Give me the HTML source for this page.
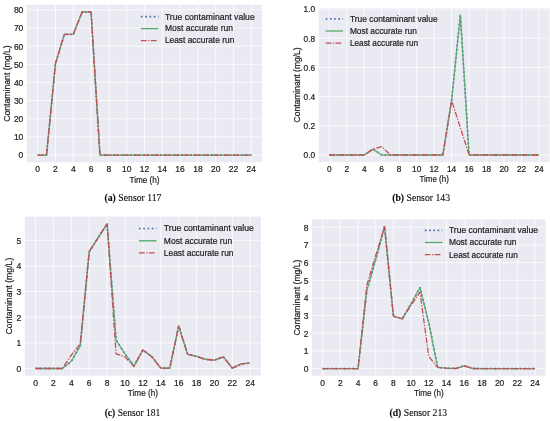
<!DOCTYPE html>
<html lang="en">
<head>
<meta charset="utf-8">
<title>Contaminant concentration at sensors</title>
<style>
html,body{margin:0;padding:0;background:#ffffff;}
body{width:550px;height:421px;overflow:hidden;}
svg{display:block;}
</style>
</head>
<body>
<svg width="550" height="421" viewBox="0 0 550 421">
<rect x="0" y="0" width="550" height="421" fill="#ffffff"/>
<g>
<clipPath id="cp0"><rect x="26.95" y="4.85" width="235.05" height="157.35"/></clipPath>
<rect x="26.95" y="4.85" width="235.05" height="157.35" fill="#EAEAF2"/>
<path d="M37.63 4.85V162.2M55.44 4.85V162.2M73.25 4.85V162.2M91.05 4.85V162.2M108.86 4.85V162.2M126.67 4.85V162.2M144.47 4.85V162.2M162.28 4.85V162.2M180.09 4.85V162.2M197.9 4.85V162.2M215.7 4.85V162.2M233.51 4.85V162.2M251.32 4.85V162.2M26.95 155.05H262M26.95 136.89H262M26.95 118.74H262M26.95 100.59H262M26.95 82.44H262M26.95 64.28H262M26.95 46.13H262M26.95 27.98H262M26.95 9.82H262" stroke="#ffffff" stroke-width="0.75" fill="none" clip-path="url(#cp0)"/>
<g font-family='"Liberation Sans", sans-serif' font-size="8.5" fill="#222222" stroke="#222222" stroke-width="0.2">
<g text-anchor="middle">
<text x="37.63" y="172.2">0</text>
<text x="55.44" y="172.2">2</text>
<text x="73.25" y="172.2">4</text>
<text x="91.05" y="172.2">6</text>
<text x="108.86" y="172.2">8</text>
<text x="126.67" y="172.2">10</text>
<text x="144.47" y="172.2">12</text>
<text x="162.28" y="172.2">14</text>
<text x="180.09" y="172.2">16</text>
<text x="197.9" y="172.2">18</text>
<text x="215.7" y="172.2">20</text>
<text x="233.51" y="172.2">22</text>
<text x="251.32" y="172.2">24</text>
</g><g text-anchor="end">
<text x="23.35" y="158.45">0</text>
<text x="23.35" y="140.29">10</text>
<text x="23.35" y="122.14">20</text>
<text x="23.35" y="103.99">30</text>
<text x="23.35" y="85.84">40</text>
<text x="23.35" y="67.68">50</text>
<text x="23.35" y="49.53">60</text>
<text x="23.35" y="31.38">70</text>
<text x="23.35" y="13.22">80</text>
</g>
<text x="144.47" y="182.8" font-size="8.9" text-anchor="middle" textLength="29.99" lengthAdjust="spacingAndGlyphs">Time (h)</text>
<text transform="translate(10.2 83.52) rotate(-90)" font-size="8.9" text-anchor="middle" textLength="76.48" lengthAdjust="spacingAndGlyphs">Contaminant (mg/L)</text>
<text x="164.9" y="19.55" textLength="89.8" lengthAdjust="spacingAndGlyphs">True contaminant value</text>
<text x="164.9" y="31.45" textLength="68.1" lengthAdjust="spacingAndGlyphs">Most accurate run</text>
<text x="164.9" y="43.45" textLength="69.4" lengthAdjust="spacingAndGlyphs">Least accurate run</text>
</g>
<path d="M140.9 16.7H158.5" stroke="#4C72B0" stroke-width="1.7" stroke-dasharray="1.7 2.58" fill="none"/>
<path d="M140.9 28.6H158.5" stroke="#55A868" stroke-width="1.3" fill="none"/>
<path d="M140.9 40.6H157.1" stroke="#C44E52" stroke-width="1.3" stroke-dasharray="5.75 1.5 1.25 1.5" fill="none"/>
<g fill="none" stroke-linejoin="round" clip-path="url(#cp0)">
<path d="M37.63 155.05L46.54 155.05L55.44 63.74L64.34 34.33L73.25 34.33L82.15 12L91.05 12L99.96 155.05L108.86 155.05L117.76 155.05L126.67 155.05L135.57 155.05L144.47 155.05L153.38 155.05L162.28 155.05L171.19 155.05L180.09 155.05L188.99 155.05L197.9 155.05L206.8 155.05L215.7 155.05L224.61 155.05L233.51 155.05L242.41 155.05L251.32 155.05" stroke="#4C72B0" stroke-width="1.7" stroke-dasharray="1.7 2.58"/>
<path d="M37.63 155.05L46.54 155.05L55.44 63.74L64.34 34.33L73.25 34.33L82.15 12L91.05 12L99.96 155.05L108.86 155.05L117.76 155.05L126.67 155.05L135.57 155.05L144.47 155.05L153.38 155.05L162.28 155.05L171.19 155.05L180.09 155.05L188.99 155.05L197.9 155.05L206.8 155.05L215.7 155.05L224.61 155.05L233.51 155.05L242.41 155.05L251.32 155.05" stroke="#55A868" stroke-width="1.3" stroke-opacity="0.88"/>
<path d="M37.63 155.05L46.54 155.05L55.44 63.74L64.34 34.33L73.25 34.33L82.15 12L91.05 12L99.96 155.05L108.86 155.05L117.76 155.05L126.67 155.05L135.57 155.05L144.47 155.05L153.38 155.05L162.28 155.05L171.19 155.05L180.09 155.05L188.99 155.05L197.9 155.05L206.8 155.05L215.7 155.05L224.61 155.05L233.51 155.05L242.41 155.05L251.32 155.05" stroke="#C44E52" stroke-width="1.3" stroke-dasharray="5.75 1.5 1.25 1.5"/>
</g>
<text x="133" y="201.4" font-family='"Liberation Serif", serif' font-size="9.6" fill="#0a0a0a" stroke="#0a0a0a" stroke-width="0.1" text-anchor="middle" textLength="57" lengthAdjust="spacingAndGlyphs"><tspan font-weight="bold">(a)</tspan> Sensor 117</text>
</g>
<g>
<clipPath id="cp1"><rect x="318.75" y="7.85" width="230.75" height="154.15"/></clipPath>
<rect x="318.75" y="7.85" width="230.75" height="154.15" fill="#EAEAF2"/>
<path d="M329.24 7.85V162M346.72 7.85V162M364.2 7.85V162M381.68 7.85V162M399.16 7.85V162M416.64 7.85V162M434.12 7.85V162M451.61 7.85V162M469.09 7.85V162M486.57 7.85V162M504.05 7.85V162M521.53 7.85V162M539.01 7.85V162M318.75 154.99H549.5M318.75 125.8H549.5M318.75 96.6H549.5M318.75 67.41H549.5M318.75 38.21H549.5M318.75 9.02H549.5" stroke="#ffffff" stroke-width="0.74" fill="none" clip-path="url(#cp1)"/>
<g font-family='"Liberation Sans", sans-serif' font-size="8.34" fill="#222222" stroke="#222222" stroke-width="0.2">
<g text-anchor="middle">
<text x="329.24" y="172.2">0</text>
<text x="346.72" y="172.2">2</text>
<text x="364.2" y="172.2">4</text>
<text x="381.68" y="172.2">6</text>
<text x="399.16" y="172.2">8</text>
<text x="416.64" y="172.2">10</text>
<text x="434.12" y="172.2">12</text>
<text x="451.61" y="172.2">14</text>
<text x="469.09" y="172.2">16</text>
<text x="486.57" y="172.2">18</text>
<text x="504.05" y="172.2">20</text>
<text x="521.53" y="172.2">22</text>
<text x="539.01" y="172.2">24</text>
</g><g text-anchor="end">
<text x="315.15" y="158.33">0.0</text>
<text x="315.15" y="129.14">0.2</text>
<text x="315.15" y="99.94">0.4</text>
<text x="315.15" y="70.75">0.6</text>
<text x="315.15" y="41.55">0.8</text>
<text x="315.15" y="12.35">1.0</text>
</g>
<text x="434.12" y="182.4" font-size="8.74" text-anchor="middle" textLength="29.44" lengthAdjust="spacingAndGlyphs">Time (h)</text>
<text transform="translate(300.3 84.92) rotate(-90)" font-size="8.74" text-anchor="middle" textLength="75.08" lengthAdjust="spacingAndGlyphs">Contaminant (mg/L)</text>
<text x="349.9" y="21.7" textLength="87.7" lengthAdjust="spacingAndGlyphs">True contaminant value</text>
<text x="349.9" y="33.8" textLength="66.9" lengthAdjust="spacingAndGlyphs">Most accurate run</text>
<text x="349.9" y="46" textLength="68.2" lengthAdjust="spacingAndGlyphs">Least accurate run</text>
</g>
<path d="M325.7 18.9H343" stroke="#4C72B0" stroke-width="1.67" stroke-dasharray="1.67 2.53" fill="none"/>
<path d="M325.7 31H343" stroke="#55A868" stroke-width="1.28" fill="none"/>
<path d="M325.7 43.2H341.6" stroke="#C44E52" stroke-width="1.28" stroke-dasharray="5.64 1.47 1.23 1.47" fill="none"/>
<g fill="none" stroke-linejoin="round" clip-path="url(#cp1)">
<path d="M329.24 154.99L337.98 154.99L346.72 154.99L355.46 154.99L364.2 154.99L372.94 149.15L381.68 154.99L390.42 154.99L399.16 154.99L407.9 154.99L416.64 154.99L425.38 154.99L434.12 154.99L442.87 154.99L451.61 100.4L460.35 14.86L469.09 154.99L477.83 154.99L486.57 154.99L495.31 154.99L504.05 154.99L512.79 154.99L521.53 154.99L530.27 154.99L539.01 154.99" stroke="#4C72B0" stroke-width="1.67" stroke-dasharray="1.67 2.53"/>
<path d="M329.24 154.99L337.98 154.99L346.72 154.99L355.46 154.99L364.2 154.99L372.94 149.15L381.68 154.99L390.42 154.99L399.16 154.99L407.9 154.99L416.64 154.99L425.38 154.99L434.12 154.99L442.87 154.99L451.61 100.4L460.35 14.86L469.09 154.99L477.83 154.99L486.57 154.99L495.31 154.99L504.05 154.99L512.79 154.99L521.53 154.99L530.27 154.99L539.01 154.99" stroke="#55A868" stroke-width="1.28" stroke-opacity="0.88"/>
<path d="M329.24 154.99L337.98 154.99L346.72 154.99L355.46 154.99L364.2 154.99L372.94 149.15L381.68 146.67L390.42 154.99L399.16 154.99L407.9 154.99L416.64 154.99L425.38 154.99L434.12 154.99L442.87 154.99L451.61 100.4L460.35 127.7L469.09 154.99L477.83 154.99L486.57 154.99L495.31 154.99L504.05 154.99L512.79 154.99L521.53 154.99L530.27 154.99L539.01 154.99" stroke="#C44E52" stroke-width="1.28" stroke-dasharray="5.64 1.47 1.23 1.47"/>
</g>
<text x="421.1" y="201.4" font-family='"Liberation Serif", serif' font-size="9.6" fill="#0a0a0a" stroke="#0a0a0a" stroke-width="0.1" text-anchor="middle" textLength="57.9" lengthAdjust="spacingAndGlyphs"><tspan font-weight="bold">(b)</tspan> Sensor 143</text>
</g>
<g>
<clipPath id="cp2"><rect x="24.8" y="216.6" width="236.2" height="159.1"/></clipPath>
<rect x="24.8" y="216.6" width="236.2" height="159.1" fill="#EAEAF2"/>
<path d="M35.54 216.6V375.7M53.43 216.6V375.7M71.32 216.6V375.7M89.22 216.6V375.7M107.11 216.6V375.7M125.01 216.6V375.7M142.9 216.6V375.7M160.79 216.6V375.7M178.69 216.6V375.7M196.58 216.6V375.7M214.48 216.6V375.7M232.37 216.6V375.7M250.26 216.6V375.7M24.8 368.47H261M24.8 342.82H261M24.8 317.18H261M24.8 291.53H261M24.8 265.89H261M24.8 240.24H261" stroke="#ffffff" stroke-width="0.75" fill="none" clip-path="url(#cp2)"/>
<g font-family='"Liberation Sans", sans-serif' font-size="8.54" fill="#222222" stroke="#222222" stroke-width="0.2">
<g text-anchor="middle">
<text x="35.54" y="385.7">0</text>
<text x="53.43" y="385.7">2</text>
<text x="71.32" y="385.7">4</text>
<text x="89.22" y="385.7">6</text>
<text x="107.11" y="385.7">8</text>
<text x="125.01" y="385.7">10</text>
<text x="142.9" y="385.7">12</text>
<text x="160.79" y="385.7">14</text>
<text x="178.69" y="385.7">16</text>
<text x="196.58" y="385.7">18</text>
<text x="214.48" y="385.7">20</text>
<text x="232.37" y="385.7">22</text>
<text x="250.26" y="385.7">24</text>
</g><g text-anchor="end">
<text x="21.2" y="371.88">0</text>
<text x="21.2" y="346.24">1</text>
<text x="21.2" y="320.59">2</text>
<text x="21.2" y="294.95">3</text>
<text x="21.2" y="269.31">4</text>
<text x="21.2" y="243.66">5</text>
</g>
<text x="142.9" y="395.6" font-size="8.94" text-anchor="middle" textLength="30.14" lengthAdjust="spacingAndGlyphs">Time (h)</text>
<text transform="translate(12.4 296.15) rotate(-90)" font-size="8.94" text-anchor="middle" textLength="76.86" lengthAdjust="spacingAndGlyphs">Contaminant (mg/L)</text>
<text x="163.8" y="231.36" textLength="90.1" lengthAdjust="spacingAndGlyphs">True contaminant value</text>
<text x="163.8" y="243.66" textLength="68.4" lengthAdjust="spacingAndGlyphs">Most accurate run</text>
<text x="163.8" y="255.76" textLength="69.7" lengthAdjust="spacingAndGlyphs">Least accurate run</text>
</g>
<path d="M138.9 228.5H156.6" stroke="#4C72B0" stroke-width="1.71" stroke-dasharray="1.71 2.59" fill="none"/>
<path d="M138.9 240.8H156.6" stroke="#55A868" stroke-width="1.31" fill="none"/>
<path d="M138.9 252.9H155.2" stroke="#C44E52" stroke-width="1.31" stroke-dasharray="5.78 1.51 1.26 1.51" fill="none"/>
<g fill="none" stroke-linejoin="round" clip-path="url(#cp2)">
<path d="M35.54 368.47L44.48 368.47L53.43 368.47L62.38 368.47L71.32 361.29L80.27 345.64L89.22 251.78L98.17 237.68L107.11 223.83L116.06 340L125.01 353.85L133.95 365.9L142.9 350L151.85 356.67L160.79 368.21L169.74 368.21L178.69 326.03L187.63 354.36L196.58 356.42L205.53 359.36L214.48 360.13L223.42 356.93L232.37 368.21L241.32 363.85L250.26 363.08" stroke="#4C72B0" stroke-width="1.71" stroke-dasharray="1.71 2.59"/>
<path d="M35.54 368.47L44.48 368.47L53.43 368.47L62.38 368.47L71.32 361.29L80.27 345.64L89.22 251.78L98.17 237.68L107.11 223.83L116.06 340L125.01 353.85L133.95 365.9L142.9 350L151.85 356.67L160.79 368.21L169.74 368.21L178.69 326.03L187.63 354.36L196.58 356.42L205.53 359.36L214.48 360.13L223.42 356.93L232.37 368.21L241.32 363.85L250.26 363.08" stroke="#55A868" stroke-width="1.31" stroke-opacity="0.88"/>
<path d="M35.54 368.47L44.48 368.47L53.43 368.47L62.38 368.47L71.32 355.13L80.27 343.85L89.22 251.27L98.17 237.68L107.11 223.83L116.06 353.85L125.01 356.93L133.95 366.67L142.9 350L151.85 356.67L160.79 368.21L169.74 368.21L178.69 326.03L187.63 354.36L196.58 356.42L205.53 359.36L214.48 360.13L223.42 356.93L232.37 368.21L241.32 363.85L250.26 363.08" stroke="#C44E52" stroke-width="1.31" stroke-dasharray="5.78 1.51 1.26 1.51"/>
</g>
<text x="132.5" y="416.3" font-family='"Liberation Serif", serif' font-size="9.6" fill="#0a0a0a" stroke="#0a0a0a" stroke-width="0.1" text-anchor="middle" textLength="55.6" lengthAdjust="spacingAndGlyphs"><tspan font-weight="bold">(c)</tspan> Sensor 181</text>
</g>
<g>
<clipPath id="cp3"><rect x="312" y="219.4" width="233.6" height="156.4"/></clipPath>
<rect x="312" y="219.4" width="233.6" height="156.4" fill="#EAEAF2"/>
<path d="M322.62 219.4V375.8M340.32 219.4V375.8M358.01 219.4V375.8M375.71 219.4V375.8M393.41 219.4V375.8M411.1 219.4V375.8M428.8 219.4V375.8M446.5 219.4V375.8M464.19 219.4V375.8M481.89 219.4V375.8M499.59 219.4V375.8M517.28 219.4V375.8M534.98 219.4V375.8M312 368.69H545.6M312 351.01H545.6M312 333.32H545.6M312 315.64H545.6M312 297.95H545.6M312 280.27H545.6M312 262.59H545.6M312 244.9H545.6M312 227.22H545.6" stroke="#ffffff" stroke-width="0.75" fill="none" clip-path="url(#cp3)"/>
<g font-family='"Liberation Sans", sans-serif' font-size="8.45" fill="#222222" stroke="#222222" stroke-width="0.2">
<g text-anchor="middle">
<text x="322.62" y="385.8">0</text>
<text x="340.32" y="385.8">2</text>
<text x="358.01" y="385.8">4</text>
<text x="375.71" y="385.8">6</text>
<text x="393.41" y="385.8">8</text>
<text x="411.1" y="385.8">10</text>
<text x="428.8" y="385.8">12</text>
<text x="446.5" y="385.8">14</text>
<text x="464.19" y="385.8">16</text>
<text x="481.89" y="385.8">18</text>
<text x="499.59" y="385.8">20</text>
<text x="517.28" y="385.8">22</text>
<text x="534.98" y="385.8">24</text>
</g><g text-anchor="end">
<text x="308.4" y="372.07">0</text>
<text x="308.4" y="354.38">1</text>
<text x="308.4" y="336.7">2</text>
<text x="308.4" y="319.02">3</text>
<text x="308.4" y="301.33">4</text>
<text x="308.4" y="283.65">5</text>
<text x="308.4" y="265.96">6</text>
<text x="308.4" y="248.28">7</text>
<text x="308.4" y="230.59">8</text>
</g>
<text x="428.8" y="395.6" font-size="8.84" text-anchor="middle" textLength="29.81" lengthAdjust="spacingAndGlyphs">Time (h)</text>
<text transform="translate(300 297.6) rotate(-90)" font-size="8.84" text-anchor="middle" textLength="76.01" lengthAdjust="spacingAndGlyphs">Contaminant (mg/L)</text>
<text x="448.9" y="233.13" textLength="89.1" lengthAdjust="spacingAndGlyphs">True contaminant value</text>
<text x="448.9" y="245.33" textLength="67.6" lengthAdjust="spacingAndGlyphs">Most accurate run</text>
<text x="448.9" y="257.53" textLength="68.9" lengthAdjust="spacingAndGlyphs">Least accurate run</text>
</g>
<path d="M424.8 230.3H442.3" stroke="#4C72B0" stroke-width="1.69" stroke-dasharray="1.69 2.56" fill="none"/>
<path d="M424.8 242.5H442.3" stroke="#55A868" stroke-width="1.29" fill="none"/>
<path d="M424.8 254.7H440.9" stroke="#C44E52" stroke-width="1.29" stroke-dasharray="5.71 1.49 1.24 1.49" fill="none"/>
<g fill="none" stroke-linejoin="round" clip-path="url(#cp3)">
<path d="M322.62 368.69L331.47 368.69L340.32 368.69L349.16 368.69L358.01 368.69L366.86 290.35L375.71 259.58L384.56 226.51L393.41 316.17L402.25 318.82L411.1 303.61L419.95 287.7L428.8 322.71L437.65 367.45L446.5 368.16L455.35 368.51L464.19 365.86L473.04 368.51L481.89 368.69L490.74 368.69L499.59 368.69L508.44 368.69L517.28 368.69L526.13 368.69L534.98 368.69" stroke="#4C72B0" stroke-width="1.69" stroke-dasharray="1.69 2.56"/>
<path d="M322.62 368.69L331.47 368.69L340.32 368.69L349.16 368.69L358.01 368.69L366.86 290.35L375.71 259.58L384.56 226.51L393.41 316.17L402.25 318.82L411.1 303.61L419.95 287.7L428.8 322.71L437.65 367.45L446.5 368.16L455.35 368.51L464.19 365.86L473.04 368.51L481.89 368.69L490.74 368.69L499.59 368.69L508.44 368.69L517.28 368.69L526.13 368.69L534.98 368.69" stroke="#55A868" stroke-width="1.29" stroke-opacity="0.88"/>
<path d="M322.62 368.69L331.47 368.69L340.32 368.69L349.16 368.69L358.01 368.69L366.86 285.22L375.71 255.51L384.56 226.51L393.41 316.17L402.25 318.82L411.1 305.03L419.95 292.29L428.8 356.49L437.65 367.45L446.5 368.16L455.35 368.51L464.19 365.86L473.04 368.51L481.89 368.69L490.74 368.69L499.59 368.69L508.44 368.69L517.28 368.69L526.13 368.69L534.98 368.69" stroke="#C44E52" stroke-width="1.29" stroke-dasharray="5.71 1.49 1.24 1.49"/>
</g>
<text x="418.3" y="416.3" font-family='"Liberation Serif", serif' font-size="9.6" fill="#0a0a0a" stroke="#0a0a0a" stroke-width="0.1" text-anchor="middle" textLength="57.6" lengthAdjust="spacingAndGlyphs"><tspan font-weight="bold">(d)</tspan> Sensor 213</text>
</g>
</svg>
</body>
</html>
